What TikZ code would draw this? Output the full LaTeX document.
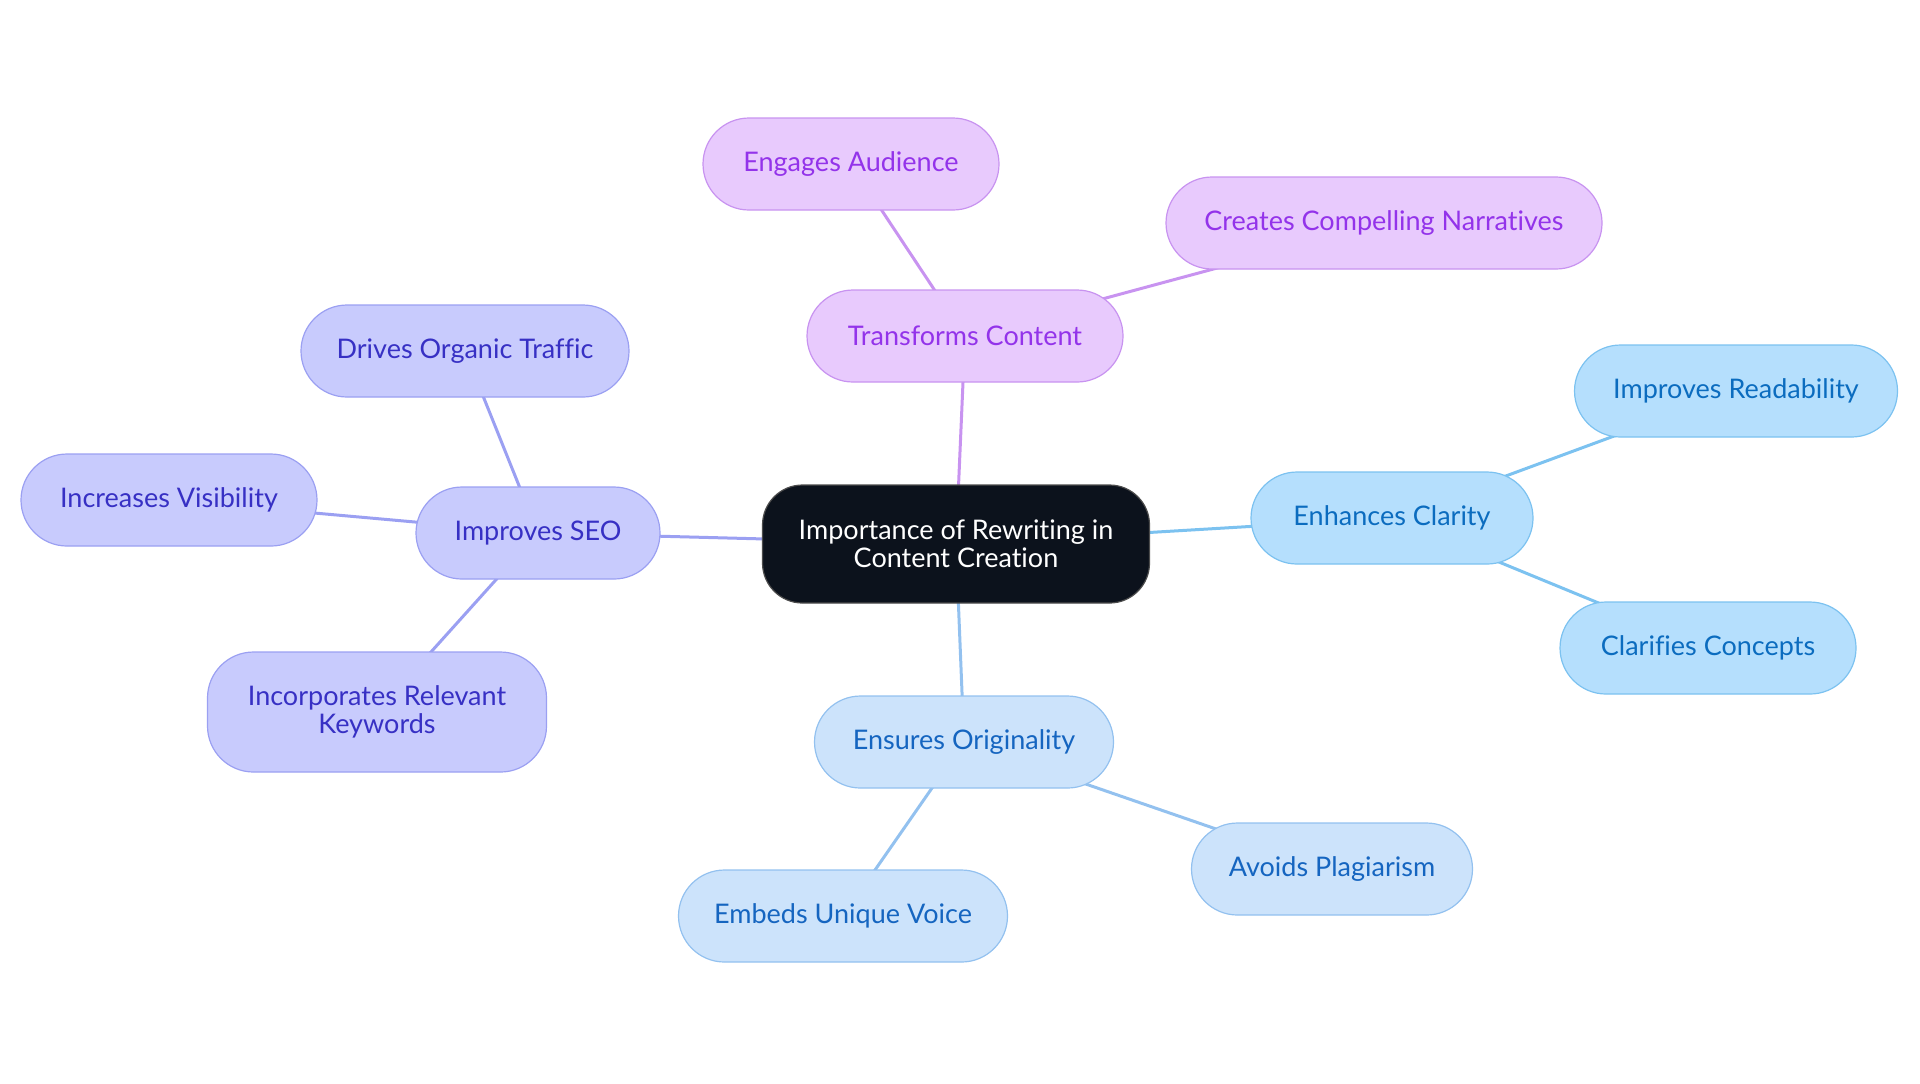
\documentclass[tikz,border=0pt]{standalone}
\usepackage{fontspec}
\setmainfont[Ligatures=CommonOff]{Lato}
\usetikzlibrary{backgrounds}
\definecolor{pfill}{HTML}{E8CAFD}
\definecolor{pdraw}{HTML}{C893F0}
\definecolor{ptext}{HTML}{9333EA}
\definecolor{ifill}{HTML}{C8CBFD}
\definecolor{idraw}{HTML}{9BA0F2}
\definecolor{itext}{HTML}{3730C4}
\definecolor{sfill}{HTML}{B5DFFD}
\definecolor{sdraw}{HTML}{7CC2F0}
\definecolor{stext}{HTML}{0B6CBF}
\definecolor{bfill}{HTML}{CCE3FB}
\definecolor{bdraw}{HTML}{93C1EF}
\definecolor{btext}{HTML}{1565C0}
\definecolor{cfill}{HTML}{0C121C}
\tikzset{
  base/.style={rounded corners=23pt, line width=0.6pt, minimum height=46pt, align=center, font=\fontsize{13.5}{14}\selectfont, inner sep=0pt},
  purp/.style={base, fill=pfill, draw=pdraw, text=ptext},
  indi/.style={base, fill=ifill, draw=idraw, text=itext},
  sky/.style={base, fill=sfill, draw=sdraw, text=stext},
  blu/.style={base, fill=bfill, draw=bdraw, text=btext},
  root/.style={base, rounded corners=20pt, fill=cfill, draw=gray!60!black, text=white, minimum width=193.5pt, minimum height=59pt},
  conn/.style={line width=1.5pt},
}
\begin{document}
\begin{tikzpicture}[x=0.5pt,y=-0.5pt]
\useasboundingbox (0,0) rectangle (1920,1083);
\node[root] (c) at (956,544) {Importance of Rewriting in\\Content Creation};
\node[purp, minimum width=158pt] (tc) at (965,336) {Transforms Content};
\node[purp, minimum width=148pt] (ea) at (851,164) {Engages Audience};
\node[purp, minimum width=218pt] (cn) at (1384,223) {Creates Compelling Narratives};
\node[indi, minimum width=122pt] (seo) at (538,533) {Improves SEO};
\node[indi, minimum width=164pt] (dot) at (465,351) {Drives Organic Traffic};
\node[indi, minimum width=148pt] (iv) at (169,500) {Increases Visibility};
\node[indi, minimum width=169.5pt, minimum height=60pt] (irk) at (377,712) {Incorporates Relevant\\Keywords};
\node[sky, minimum width=141pt] (ec) at (1392,518) {Enhances Clarity};
\node[sky, minimum width=161.5pt] (ir) at (1736,391) {Improves Readability};
\node[sky, minimum width=148pt] (cc) at (1708,648) {Clarifies Concepts};
\node[blu, minimum width=149.5pt] (eo) at (964,742) {Ensures Originality};
\node[blu, minimum width=164.5pt] (euv) at (843,916) {Embeds Unique Voice};
\node[blu, minimum width=140.5pt] (ap) at (1332,869) {Avoids Plagiarism};
\begin{scope}[on background layer]
\draw[conn, draw=pdraw] (c.center) -- (tc.center);
\draw[conn, draw=pdraw] (tc.center) -- (ea.center);
\draw[conn, draw=pdraw] (tc.center) -- (cn.center);
\draw[conn, draw=idraw] (c.center) -- (seo.center);
\draw[conn, draw=idraw] (seo.center) -- (dot.center);
\draw[conn, draw=idraw] (seo.center) -- (iv.center);
\draw[conn, draw=idraw] (seo.center) -- (irk.center);
\draw[conn, draw=sdraw] (c.center) -- (ec.center);
\draw[conn, draw=sdraw] (ec.center) -- (ir.center);
\draw[conn, draw=sdraw] (ec.center) -- (cc.center);
\draw[conn, draw=bdraw] (c.center) -- (eo.center);
\draw[conn, draw=bdraw] (eo.center) -- (euv.center);
\draw[conn, draw=bdraw] (eo.center) -- (ap.center);
\end{scope}
\end{tikzpicture}
\end{document}
